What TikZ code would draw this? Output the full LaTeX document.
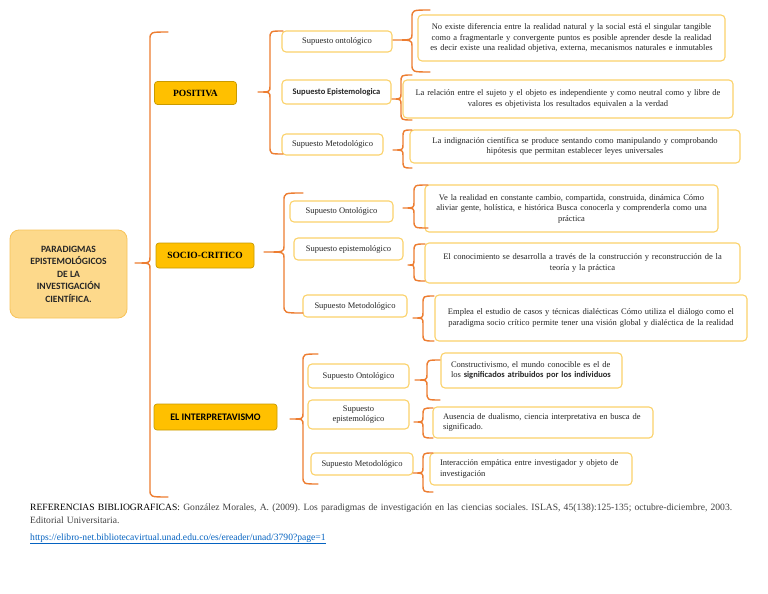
\documentclass[tikz,border=0pt]{standalone}
\usepackage{fontspec}
\setmainfont{Liberation Serif}
\newfontfamily\calibri{Carlito}
\usetikzlibrary{positioning}
\definecolor{pmorange}{HTML}{ED7D31}
\definecolor{pmgold}{HTML}{FFC000}
\definecolor{pmgolddark}{HTML}{C99A00}
\definecolor{pmpale}{HTML}{FBD26A}
\definecolor{pmroot}{HTML}{FDD98B}
\definecolor{pmrootline}{HTML}{F7C35A}
\definecolor{pmtext}{HTML}{262626}
\definecolor{pmgrey}{HTML}{404040}
\definecolor{pmlink}{HTML}{0563C1}
\tikzset{
  raiz/.style={draw=pmrootline,fill=pmroot,rounded corners=9pt,line width=0.8pt,
               align=center,text=pmtext,minimum width=117pt,minimum height=88pt,
               font={\calibri\bfseries\fontsize{9.6}{12.5}\selectfont}},
  nivel/.style={draw=pmgolddark,fill=pmgold,rounded corners=3pt,line width=0.7pt,
                align=center,text=black,inner sep=2pt,
                font={\bfseries\fontsize{9.5}{11}\selectfont}},
  supuesto/.style={draw=pmpale,fill=white,rounded corners=4pt,line width=1.1pt,
                   align=center,text=pmtext,inner sep=2pt,
                   font={\fontsize{8.5}{10.5}\selectfont}},
  idea/.style={supuesto,inner xsep=6pt},
  ideal/.style={supuesto,align=left,inner xsep=10pt},
  llave/.style={draw=pmorange,line width=1.4pt,line cap=round,line join=round},
  ref/.style={inner sep=0pt,align=left,text=pmgrey,font={\frenchspacing\fontsize{9.6}{13}\selectfont}},
}
% brace: tip x, tip y, spine x, top y, bottom y, hook x
\newcommand{\llave}[6]{%
  \draw[llave] (#6,#4) .. controls (#3,#4) .. (#3,#4+8) -- (#3,#2-6)
    .. controls (#3,#2) .. (#1,#2) .. controls (#3,#2) .. (#3,#2+6)
    -- (#3,#5-8) .. controls (#3,#5) .. (#6,#5);}

\begin{document}
\begin{tikzpicture}[x=1pt,y=-1pt]
  \fill[white] (0,0) rectangle (768,594);
  \useasboundingbox (0,0) rectangle (768,594);

  \node[raiz] (raiz) at (68.5,274) {PARADIGMAS\\EPISTEMOLÓGICOS\\DE LA\\INVESTIGACIÓN\\CIENTÍFICA.};

  \node[nivel,minimum width=82pt,minimum height=23pt] (pos) at (195.5,93) {POSITIVA};
  \node[nivel,minimum width=98pt,minimum height=25pt] (soc) at (205,255.5) {SOCIO-CRITICO};
  \node[nivel,minimum width=123pt,minimum height=26pt,font={\calibri\bfseries\fontsize{10}{12}\selectfont}]
    (int) at (215.5,417) {EL INTERPRETAVISMO};

  % supuestos
  \node[supuesto,minimum width=110pt,minimum height=21pt] (p1) at (337,41.5) {Supuesto ontológico};
  \node[supuesto,minimum width=109pt,minimum height=24pt,font={\calibri\bfseries\fontsize{8.5}{10.5}\selectfont}]
    (p2) at (336.5,92) {Supuesto Epistemologica};
  \node[supuesto,minimum width=101pt,minimum height=21pt] (p3) at (332.5,144.5) {Supuesto Metodológico};
  \node[supuesto,minimum width=103pt,minimum height=21pt] (s1) at (341.5,211.5) {Supuesto Ontológico};
  \node[supuesto,minimum width=109pt,minimum height=22pt] (s2) at (348.5,249) {Supuesto epistemológico};
  \node[supuesto,minimum width=104pt,minimum height=22pt] (s3) at (355,306) {Supuesto Metodológico};
  \node[supuesto,minimum width=101pt,minimum height=24pt] (i1) at (358.5,376) {Supuesto Ontológico};
  \node[supuesto,minimum width=101pt,minimum height=29pt] (i2) at (358.5,414.5) {Supuesto\\epistemológico};
  \node[supuesto,minimum width=102pt,minimum height=22pt] (i3) at (362,464) {Supuesto Metodológico};

  % ideas
  \node[idea,text width=295pt,minimum height=46pt] (p1d) at (571.5,38)
    {No existe diferencia entre la realidad natural y la social está el singular tangible\\
     como a fragmentarle y convergente puntos es posible aprender desde la realidad\\
     es decir existe una realidad objetiva, externa, mecanismos naturales e inmutables};
  \node[idea,text width=318pt,minimum height=38pt] (p2d) at (568,99)
    {La relación entre el sujeto y el objeto es independiente y como neutral como y libre de\\
     valores es objetivista los resultados equivalen a la verdad};
  \node[idea,text width=318pt,minimum height=33pt] (p3d) at (575,146.5)
    {La indignación científica se produce sentando como manipulando y comprobando\\
     hipótesis que permitan establecer leyes universales};
  \node[idea,text width=281pt,minimum height=47pt] (s1d) at (571.5,208.5)
    {Ve la realidad en constante cambio, compartida, construida, dinámica Cómo\\
     aliviar gente, holística, e histórica Busca conocerla y comprenderla como una\\
     práctica};
  \node[idea,text width=303pt,minimum height=40pt] (s2d) at (582.5,263)
    {El conocimiento se desarrolla a través de la construcción y reconstrucción de la\\
     teoría y la práctica};
  \node[idea,text width=300pt,minimum height=46pt] (s3d) at (591,318)
    {Emplea el estudio de casos y técnicas dialécticas Cómo utiliza el diálogo como el\\
     paradigma socio crítico permite tener una visión global y dialéctica de la realidad};
  \node[ideal,text width=161pt,minimum height=35pt] (i1d) at (531.5,370.5)
    {Constructivismo, el mundo conocible es el de\\
     los {\calibri\bfseries significados atribuidos por los individuos}};
  \node[ideal,text width=200pt,minimum height=31pt] (i2d) at (543,422.5)
    {Ausencia de dualismo, ciencia interpretativa en busca de\\ significado.};
  \node[ideal,text width=182pt,minimum height=32pt] (i3d) at (531,469)
    {Interacción empática entre investigador y objeto de\\ investigación};

  % llaves
  \llave{135}{263}{150}{32}{497}{168}
  \llave{258}{92}{270}{31}{154}{283}
  \llave{264}{252}{284}{193}{313}{303}
  \llave{290}{419}{303}{354}{484}{318}
  \llave{393}{40}{412}{10}{72}{430}
  \llave{392}{99}{401}{75}{120}{412}
  \llave{393}{150}{403}{130}{168}{412}
  \llave{403}{208}{414}{185}{228}{428}
  \llave{408}{265}{414}{244}{281}{425}
  \llave{413}{318}{423}{296}{341}{434}
  \llave{415}{380}{427}{360}{400}{440}
  \llave{414}{422}{423}{408}{438}{433}
  \llave{413}{473}{423}{453}{492}{433}

  \node[ref,anchor=north west,text width=740pt] (refs) at (30,504)
    {{\color{black}REFERENCIAS BIBLIOGRAFICAS:} González Morales, A. (2009). Los paradigmas de investigación en las ciencias sociales. ISLAS, 45(138):125-135; octubre-diciembre, 2003.\\
     Editorial Universitaria.};
  \node[ref,text=pmlink,below=9pt of refs.south west,anchor=north west] (url)
    {{\color{pmlink}\underline{https://elibro-net.bibliotecavirtual.unad.edu.co/es/ereader/unad/3790?page=1}}};
\end{tikzpicture}
\end{document}
